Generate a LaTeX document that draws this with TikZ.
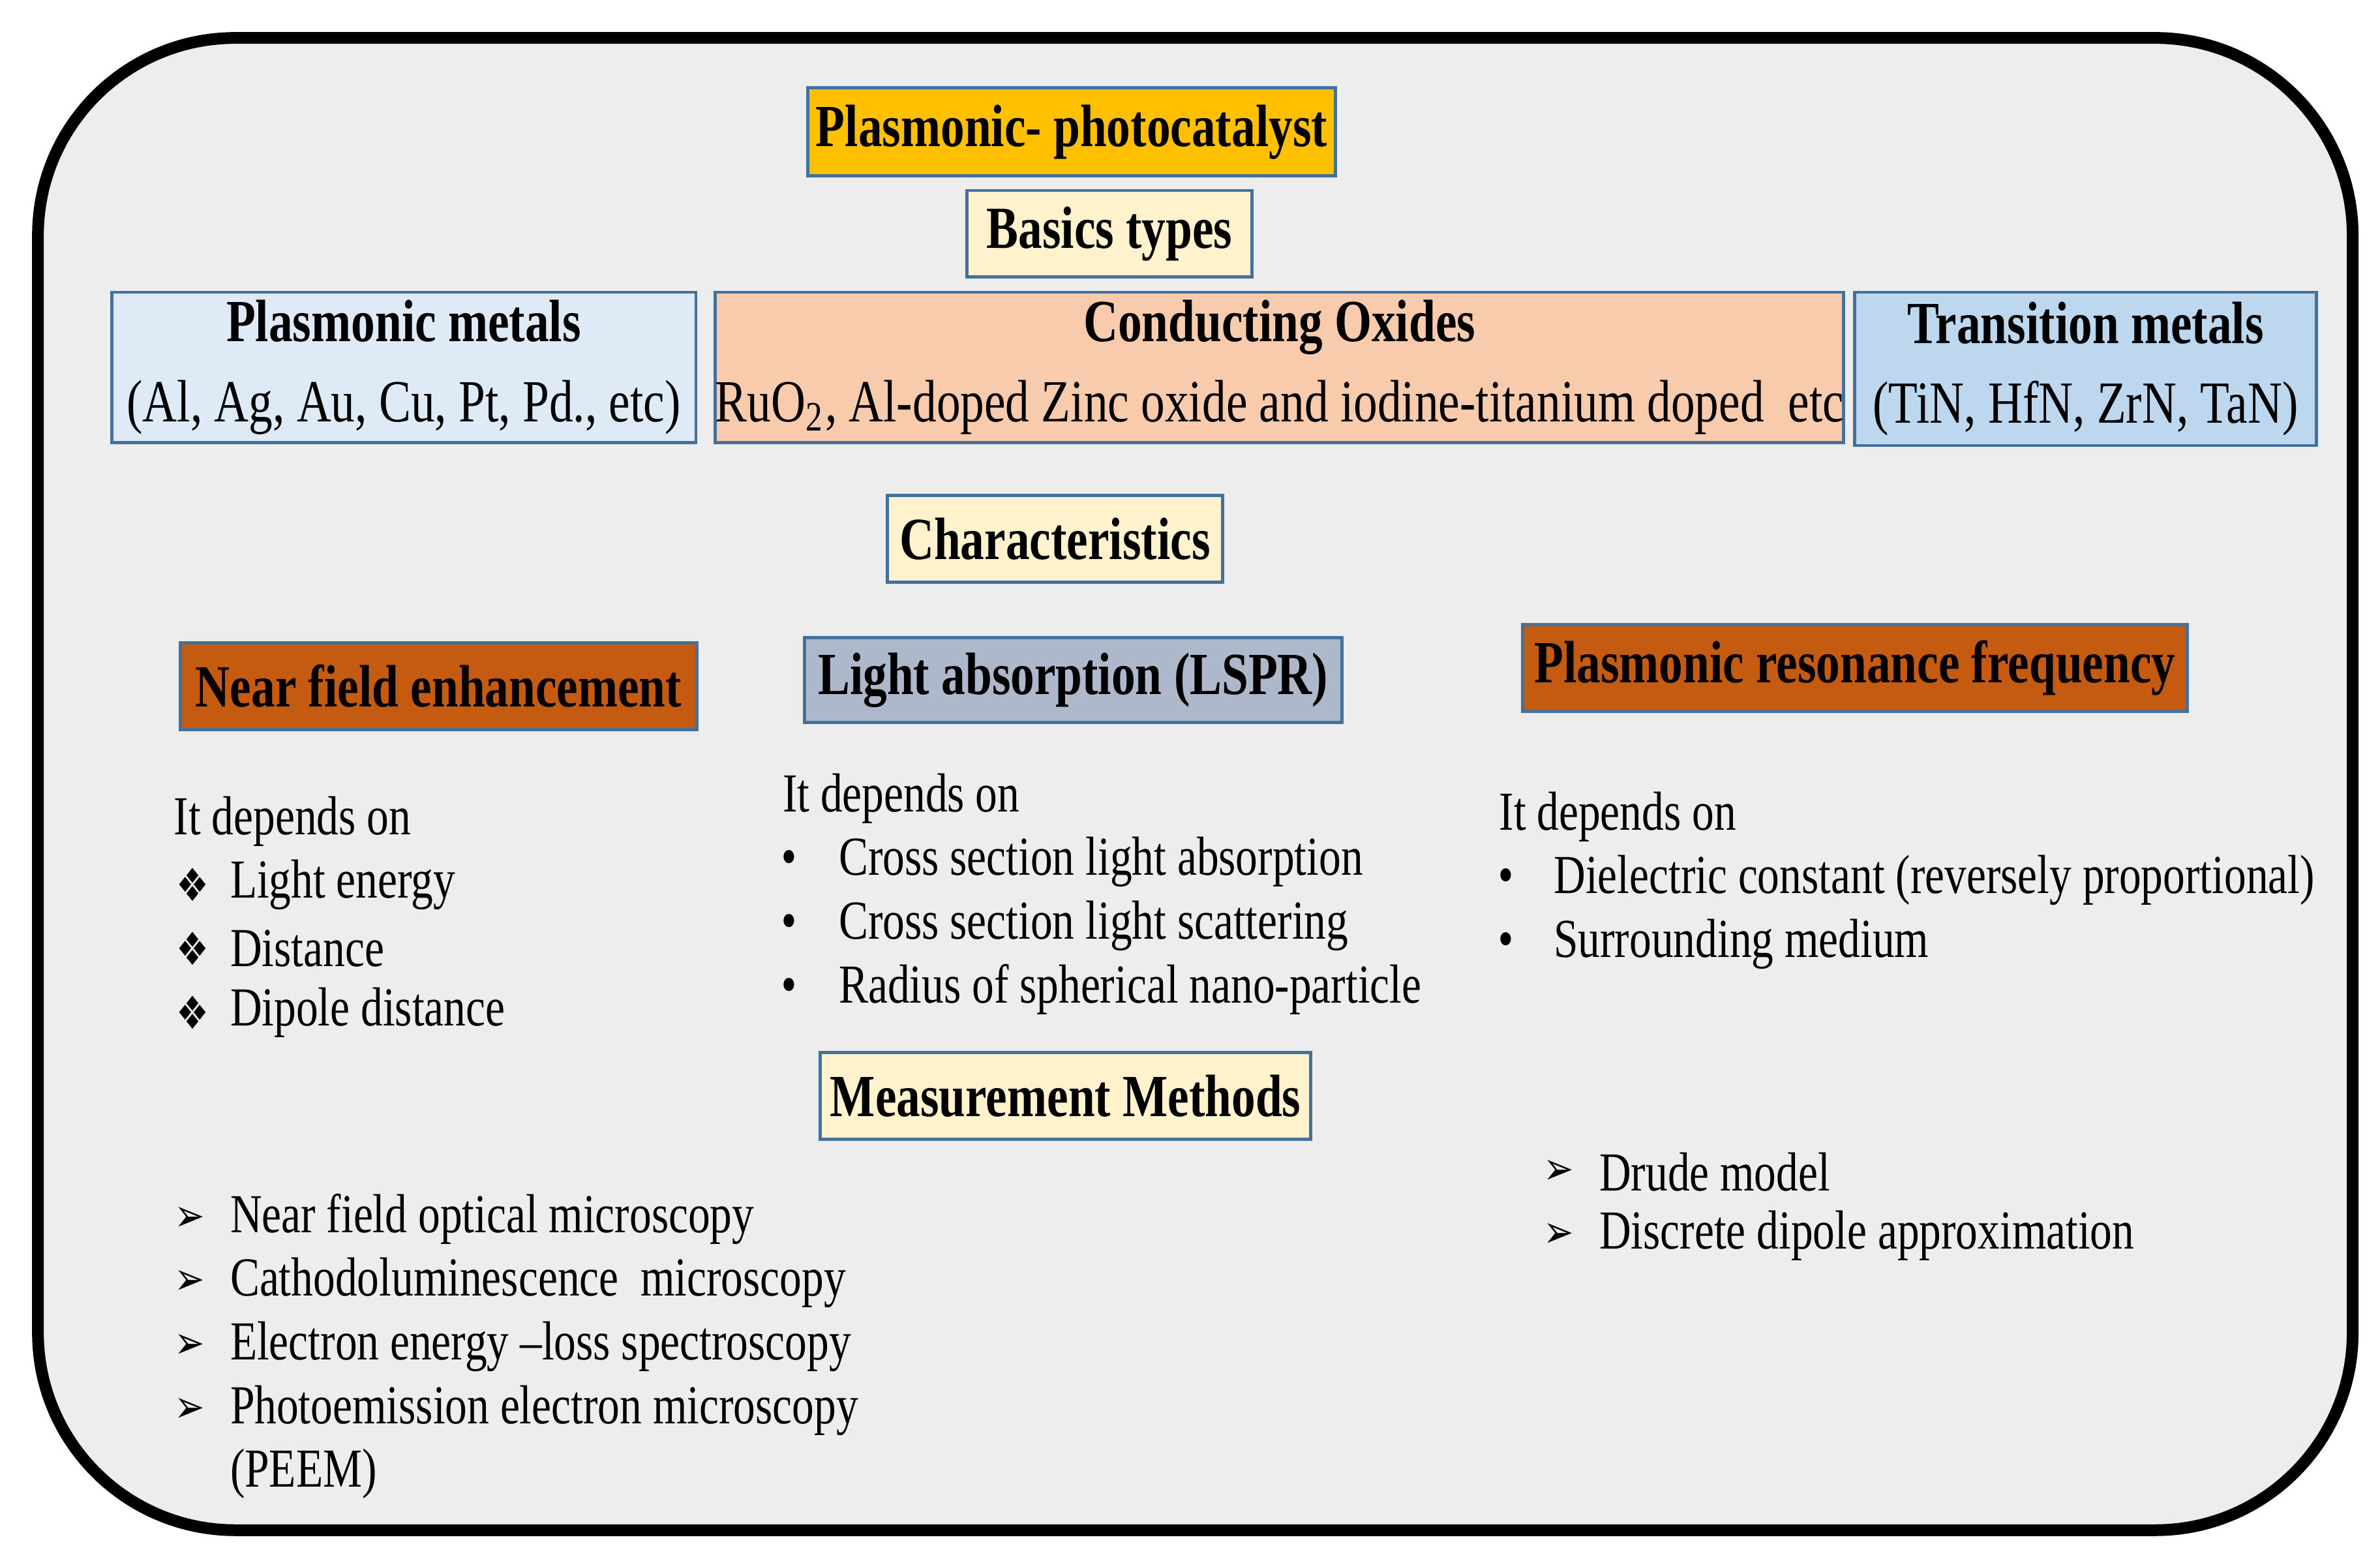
\documentclass[tikz,border=0pt]{standalone}
\usepackage{fontspec}
\setmainfont{Liberation Serif}[FakeStretch=0.8]
\newfontfamily\sym{DejaVu Sans}[FakeStretch=0.8]
\definecolor{bggray}{HTML}{EDEDED}
\definecolor{gold}{HTML}{FFC000}
\definecolor{cream}{HTML}{FFF2CC}
\definecolor{paleblue}{HTML}{DEEBF7}
\definecolor{salmon}{HTML}{F8CBAD}
\definecolor{skyblue}{HTML}{BDD7EE}
\definecolor{rust}{HTML}{C55A11}
\definecolor{slate}{HTML}{ADB9CA}
\definecolor{edge}{HTML}{41719C}
\begin{document}
\begin{tikzpicture}[x=0.01cm,y=-0.01cm,
  box/.style={draw=edge,line width=0.6pt,font=\fontsize{11.2}{13}\selectfont\bfseries,inner sep=0pt},
  sz/.style 2 args={minimum width=#1*0.01cm,minimum height=#2*0.01cm},
  txt/.style={anchor=west,inner sep=0pt,font=\fontsize{10.3}{12}\selectfont},
  bul/.style={anchor=center,inner sep=0pt,font=\sym\fontsize{8.5}{10}\selectfont}
  ]
\useasboundingbox (0,0) rectangle (1568,1028);
\draw[line width=2.2pt,fill=bggray,rounded corners=1.3cm] (25,25) rectangle (1550,1008);

% boxes
\node[box,fill=gold,sz={348}{58}] (pp) at (706,87) {Plasmonic- photocatalyst};
\node[box,fill=cream,sz={188}{57}] (bt) at (731,154) {Basics types};
\node[box,fill=paleblue,sz={385}{99},align=center] (pm) at (266,242)
  {Plasmonic metals\\[2pt]\mdseries (Al, Ag, Au, Cu, Pt, Pd., etc)};
\node[box,fill=salmon,sz={734}{99},align=center] (co) at (843,242)
  {Conducting Oxides\\[2pt]\mdseries RuO\textsubscript{2}, Al-doped Zinc oxide and iodine-titanium doped\ \ etc};
\node[box,fill=skyblue,sz={304}{101},align=center] (tm) at (1374,243)
  {Transition metals\\[2pt]\mdseries (TiN, HfN, ZrN, TaN)};
\node[box,fill=cream,sz={221}{57}] (ch) at (695,355) {Characteristics};
\node[box,fill=rust,sz={340}{57}] (nf) at (289,452) {Near field enhancement};
\node[box,fill=slate,sz={354}{56}] (la) at (707,448) {Light absorption (LSPR)};
\node[box,fill=rust,sz={438}{57}] (pr) at (1222,440) {Plasmonic resonance frequency};
\node[box,fill=cream,sz={323}{57}] (mm) at (702,722) {Measurement Methods};

% near field
\node[txt] (n0) at (114,541) {It depends on};
\foreach \t/\yy [count=\i] in {Light energy/583,Distance/625,Dipole distance/667}{
  \node[bul] (nm\i) at (127,\yy) {❖};
  \node[txt] (nt\i) at (151,\yy) {\t};
}
% light absorption
\node[txt] (l0) at (515,526) {It depends on};
\foreach \t/\yy [count=\i] in {Cross section light absorption/568,Cross section light scattering/610,Radius of spherical nano-particle/652}{
  \node[bul] (lm\i) at (520,\yy) {•};
  \node[txt] (lt\i) at (552,\yy) {\t};
}
% resonance
\node[txt] (r0) at (987,538) {It depends on};
\foreach \t/\yy [count=\i] in {Dielectric constant (reversely proportional)/580,Surrounding medium/622}{
  \node[bul] (rm\i) at (992,\yy) {•};
  \node[txt] (rt\i) at (1023,\yy) {\t};
}
% methods
\foreach \t/\yy [count=\i] in {Near field optical microscopy/803,Cathodoluminescence\ \ microscopy/845,Electron energy –loss spectroscopy/887,Photoemission electron microscopy/929}{
  \node[bul] (mm\i) at (125,\yy) {➢};
  \node[txt] (mt\i) at (151,\yy) {\t};
}
\node[txt] (mt5) at (151,971) {(PEEM)};
\foreach \t/\yy [count=\i] in {Drude model/772,Discrete dipole approximation/814}{
  \node[bul] (dm\i) at (1027,\yy) {➢};
  \node[txt] (dt\i) at (1053,\yy) {\t};
}
\end{tikzpicture}
\end{document}
